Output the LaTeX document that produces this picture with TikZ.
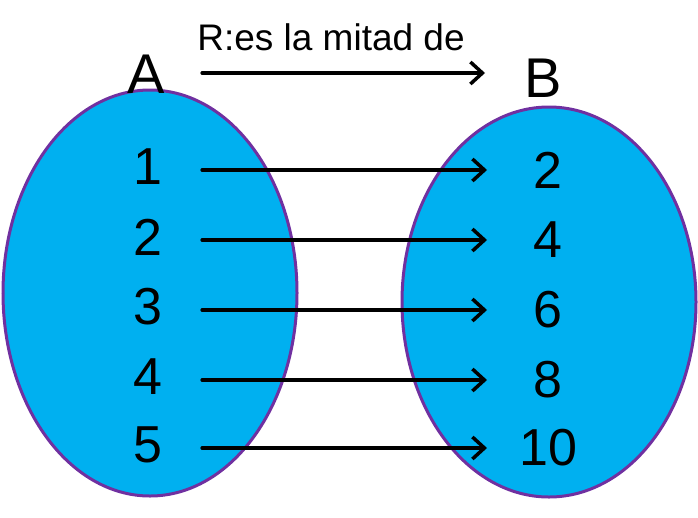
\documentclass[tikz,border=0pt]{standalone}
\usepackage{fontspec}
\setmainfont{Liberation Sans}
\usetikzlibrary{arrows.meta}
\begin{document}
\begin{tikzpicture}[x=1pt,y=-1pt,
  setel/.style={fill=cyanish,draw=purp,line width=3pt},
  big/.style={font=\fontsize{56}{56}\selectfont},
  num/.style={font=\fontsize{52}{52}\selectfont},
  arr/.style={-{Straight Barb[length=12pt,width=22pt,line width=3.5pt]},line width=3.2pt,line cap=round},
]
\definecolor{cyanish}{HTML}{00B0F0}
\definecolor{purp}{HTML}{7030A0}
\useasboundingbox (0,0) rectangle (698,517);
\draw[setel] (150,293) ellipse [x radius=147,y radius=203];
\draw[setel] (549,302) ellipse [x radius=147,y radius=195];
\node[big] (A) at (146,74) {A};
\node[big] (B) at (543,78) {B};
\node[font=\fontsize{37}{37}\selectfont] (R) at (331,37) {R:es la mitad de};
\coordinate (t1) at (202,73); \coordinate (t2) at (485,73);
\draw[arr] (t1) -- (t2);
\foreach \i/\a/\b/\ya/\yb in {1/1/2/167/170,2/2/4/237/240,3/3/6/307/310,4/4/8/377/380,5/5/10/445/448}{
  \node[num] (l\i) at (148,\ya) {\a};
  \node[num] (r\i) at (548,\yb) {\b};
  \coordinate (s\i) at (202,\yb);
  \coordinate (e\i) at (487,\yb);
  \draw[arr] (s\i) -- (e\i);
}
\end{tikzpicture}
\end{document}
